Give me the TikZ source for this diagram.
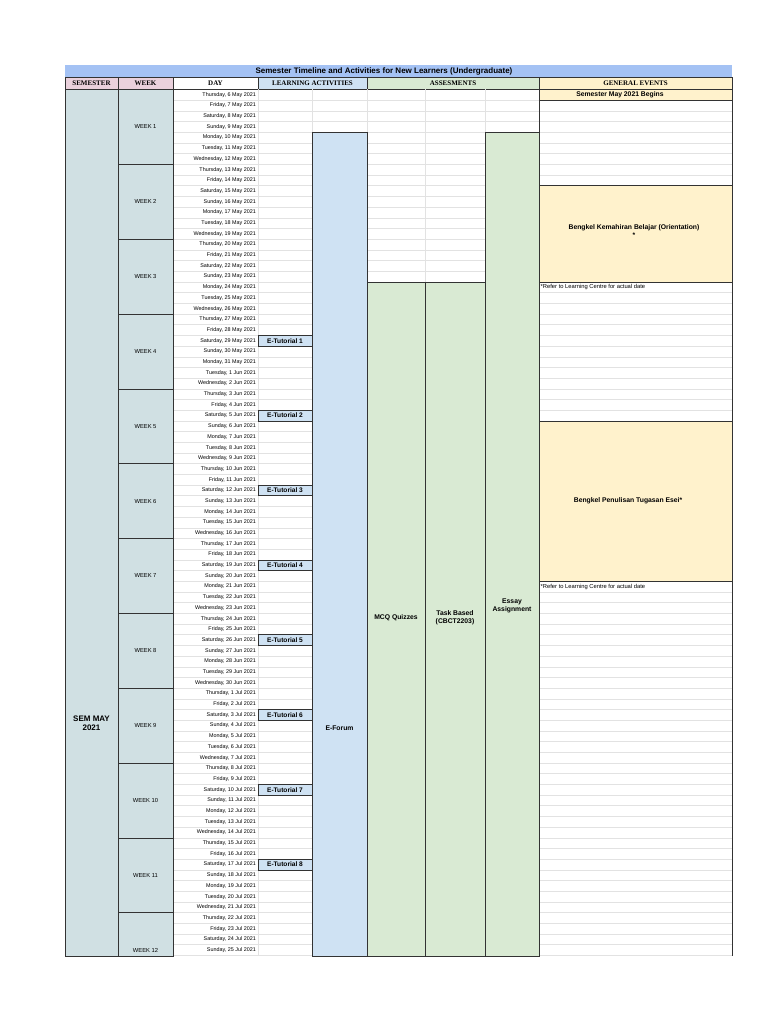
\documentclass[tikz,border=0pt]{standalone}
\usepackage{fontspec}
\setmainfont{Liberation Sans}
\newfontfamily\hdr{Liberation Serif}
\definecolor{titleblue}{HTML}{A4C2F4}
\definecolor{pinkh}{HTML}{EAD1DC}
\definecolor{lblue}{HTML}{CFE2F3}
\definecolor{lgreen}{HTML}{D9EAD3}
\definecolor{lyellow}{HTML}{FFF2CC}
\definecolor{greyblue}{HTML}{D0E0E3}
\definecolor{gridc}{HTML}{E2E2E2}
\begin{document}
\begin{tikzpicture}[x=1pt,y=-1pt,
  cellbox/.style={draw=black!80,line width=0.6pt},
  hdrtext/.style={font=\hdr\bfseries\fontsize{7}{8}\selectfont},
  daytext/.style={font=\fontsize{5.4}{6}\selectfont,anchor=east,inner sep=1pt},
  smalltext/.style={font=\fontsize{5.8}{7}\selectfont},
  boldtext/.style={font=\bfseries\fontsize{6.8}{8}\selectfont,align=center}]
\useasboundingbox (0,0) rectangle (768,1024);
\def\ry{89.5}\def\rh{10.69}
% title and header
\fill[titleblue] (65,65) rectangle (732,77.5);
\node[font=\bfseries\fontsize{8}{9}\selectfont] (title) at (384,71.5) {Semester Timeline and Activities for New Learners (Undergraduate)};
\filldraw[fill=pinkh,cellbox] (65,77.5) rectangle (118,89.5);
\filldraw[fill=pinkh,cellbox] (118,77.5) rectangle (173,89.5);
\filldraw[fill=white,cellbox] (173,77.5) rectangle (258,89.5);
\filldraw[fill=lblue,cellbox] (258,77.5) rectangle (367,89.5);
\filldraw[fill=lgreen,cellbox] (367,77.5) rectangle (539,89.5);
\filldraw[fill=lyellow,cellbox] (539,77.5) rectangle (732,89.5);
\node[hdrtext] (h1) at (91.5,83.5) {SEMESTER};
\node[hdrtext] (h2) at (145.5,83.5) {WEEK};
\node[hdrtext] (h3) at (215.5,83.5) {DAY};
\node[hdrtext] (h4) at (312.5,83.5) {LEARNING ACTIVITIES};
\node[hdrtext] (h5) at (453,83.5) {ASSESMENTS};
\node[hdrtext] (h6) at (635.5,83.5) {GENERAL EVENTS};
% grid lines
\foreach \i in {1,...,81}{
  \draw[gridc,line width=0.5pt] (173,\ry+\i*\rh) -- (732,\ry+\i*\rh);}
\foreach \x in {258,312,367,425,485,539}{
  \draw[gridc,line width=0.5pt] (\x,89.5) -- (\x,956);}
% semester
\filldraw[fill=greyblue,cellbox] (65,89.5) rectangle (118,956);
\node[boldtext,font=\bfseries\fontsize{8}{9.5}\selectfont] (sem) at (91.5,723) {SEM MAY\\2021};
% weeks
\foreach \w in {0,...,10}{
  \filldraw[fill=greyblue,cellbox] (118,\ry+7*\w*\rh) rectangle (173,\ry+7*\w*\rh+7*\rh);
  \pgfmathtruncatemacro{\wn}{\w+1}
  \node[smalltext] (wk\wn) at (145.5,\ry+7*\w*\rh+3.5*\rh) {WEEK \wn};}
\filldraw[fill=greyblue,cellbox] (118,\ry+77*\rh) rectangle (173,956);
\node[smalltext] (wk12) at (145.5,950) {WEEK 12};
% days
\def\dayrow#1#2{\node[daytext] (day#1) at (257,\ry+#1*\rh+0.5*\rh) {#2};}
\newcount\k
\def\wk#1#2#3#4#5#6#7#8{%
 \k=#1 \dayrow{\the\k}{#2}\advance\k1 \dayrow{\the\k}{#3}\advance\k1 \dayrow{\the\k}{#4}\advance\k1 \dayrow{\the\k}{#5}\advance\k1 \dayrow{\the\k}{#6}\advance\k1 \dayrow{\the\k}{#7}\advance\k1 \dayrow{\the\k}{#8}}
\wk{0}{Thursday, 6 May 2021}{Friday, 7 May 2021}{Saturday, 8 May 2021}{Sunday, 9 May 2021}{Monday, 10 May 2021}{Tuesday, 11 May 2021}{Wednesday, 12 May 2021}
\wk{7}{Thursday, 13 May 2021}{Friday, 14 May 2021}{Saturday, 15 May 2021}{Sunday, 16 May 2021}{Monday, 17 May 2021}{Tuesday, 18 May 2021}{Wednesday, 19 May 2021}
\wk{14}{Thursday, 20 May 2021}{Friday, 21 May 2021}{Saturday, 22 May 2021}{Sunday, 23 May 2021}{Monday, 24 May 2021}{Tuesday, 25 May 2021}{Wednesday, 26 May 2021}
\wk{21}{Thursday, 27 May 2021}{Friday, 28 May 2021}{Saturday, 29 May 2021}{Sunday, 30 May 2021}{Monday, 31 May 2021}{Tuesday, 1 Jun 2021}{Wednesday, 2 Jun 2021}
\wk{28}{Thursday, 3 Jun 2021}{Friday, 4 Jun 2021}{Saturday, 5 Jun 2021}{Sunday, 6 Jun 2021}{Monday, 7 Jun 2021}{Tuesday, 8 Jun 2021}{Wednesday, 9 Jun 2021}
\wk{35}{Thursday, 10 Jun 2021}{Friday, 11 Jun 2021}{Saturday, 12 Jun 2021}{Sunday, 13 Jun 2021}{Monday, 14 Jun 2021}{Tuesday, 15 Jun 2021}{Wednesday, 16 Jun 2021}
\wk{42}{Thursday, 17 Jun 2021}{Friday, 18 Jun 2021}{Saturday, 19 Jun 2021}{Sunday, 20 Jun 2021}{Monday, 21 Jun 2021}{Tuesday, 22 Jun 2021}{Wednesday, 23 Jun 2021}
\wk{49}{Thursday, 24 Jun 2021}{Friday, 25 Jun 2021}{Saturday, 26 Jun 2021}{Sunday, 27 Jun 2021}{Monday, 28 Jun 2021}{Tuesday, 29 Jun 2021}{Wednesday, 30 Jun 2021}
\wk{56}{Thursday, 1 Jul 2021}{Friday, 2 Jul 2021}{Saturday, 3 Jul 2021}{Sunday, 4 Jul 2021}{Monday, 5 Jul 2021}{Tuesday, 6 Jul 2021}{Wednesday, 7 Jul 2021}
\wk{63}{Thursday, 8 Jul 2021}{Friday, 9 Jul 2021}{Saturday, 10 Jul 2021}{Sunday, 11 Jul 2021}{Monday, 12 Jul 2021}{Tuesday, 13 Jul 2021}{Wednesday, 14 Jul 2021}
\wk{70}{Thursday, 15 Jul 2021}{Friday, 16 Jul 2021}{Saturday, 17 Jul 2021}{Sunday, 18 Jul 2021}{Monday, 19 Jul 2021}{Tuesday, 20 Jul 2021}{Wednesday, 21 Jul 2021}
\k=77 \dayrow{\the\k}{Thursday, 22 Jul 2021}\advance\k1 \dayrow{\the\k}{Friday, 23 Jul 2021}\advance\k1 \dayrow{\the\k}{Saturday, 24 Jul 2021}\advance\k1 \dayrow{\the\k}{Sunday, 25 Jul 2021}
% tutorials
\foreach \t in {1,...,8}{
  \pgfmathsetmacro{\ya}{\ry+(23+7*(\t-1))*\rh}
  \filldraw[fill=lblue,cellbox] (258,\ya) rectangle (312,\ya+\rh);
  \node[font=\bfseries\fontsize{6.6}{7}\selectfont] (tut\t) at (285,\ya+0.5*\rh) {E-Tutorial \t};}
% assessment columns
\filldraw[fill=lblue,cellbox] (312,\ry+4*\rh) rectangle (367,956);
\node[boldtext] (eforum) at (339.5,728) {E-Forum};
\filldraw[fill=lgreen,cellbox] (367,\ry+18*\rh) rectangle (425,956);
\node[boldtext] (mcq) at (396,618) {MCQ Quizzes};
\filldraw[fill=lgreen,cellbox] (425,\ry+18*\rh) rectangle (485,956);
\node[boldtext] (task) at (455,618) {Task Based\\(CBCT2203)};
\filldraw[fill=lgreen,cellbox] (485,\ry+4*\rh) rectangle (539,956);
\node[boldtext] (essay) at (512,606) {Essay\\Assignment};
% general events
\draw[black!80,line width=0.6pt] (539,89.5) -- (539,956) (732,89.5) -- (732,956);
\filldraw[fill=lyellow,cellbox] (539,89.5) rectangle (732,\ry+\rh);
\node[boldtext] (ev0) at (620,\ry+0.5*\rh) {Semester May 2021 Begins};
\filldraw[fill=lyellow,cellbox] (539,\ry+9*\rh) rectangle (732,\ry+18*\rh);
\node[boldtext] (ev1) at (634,231) {Bengkel Kemahiran Belajar (Orientation)\\*};
\node[smalltext,anchor=west,inner sep=1pt] (ref1) at (539.5,\ry+18.5*\rh) {*Refer to Learning Centre for actual date};
\filldraw[fill=lyellow,cellbox] (539,\ry+31*\rh) rectangle (732,\ry+46*\rh);
\node[boldtext] (ev2) at (628,501) {Bengkel Penulisan Tugasan Esei*};
\node[smalltext,anchor=west,inner sep=1pt] (ref2) at (539.5,\ry+46.5*\rh) {*Refer to Learning Centre for actual date};
\end{tikzpicture}
\end{document}
